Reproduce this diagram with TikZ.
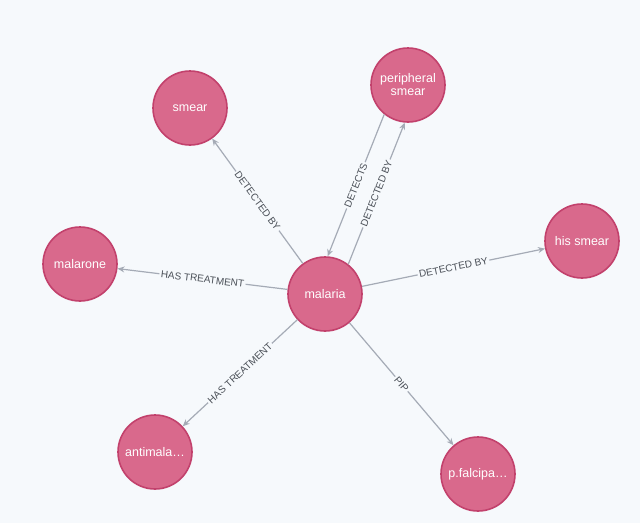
\documentclass[tikz,border=0pt]{standalone}
\usepackage{fontspec}
\setmainfont{Liberation Sans}
\usetikzlibrary{arrows.meta}
\definecolor{bg}{HTML}{F6F9FC}
\definecolor{nfill}{HTML}{D9698C}
\definecolor{nline}{HTML}{C2416C}
\definecolor{eline}{HTML}{A5ABB6}
\definecolor{etext}{HTML}{4A4F57}
\tikzset{
  ent/.style={circle,fill=nfill,draw=nline,line width=1.6pt,minimum size=74pt,inner sep=0pt,text=white,font=\fontsize{12.5}{13}\selectfont,align=center},
  rel/.style={draw=eline,line width=1.2pt,-{Stealth[length=7pt,width=6pt]}},
  lab/.style={midway,sloped,fill=bg,inner sep=1.5pt,text=etext,font=\fontsize{10}{11}\selectfont}
}
\begin{document}
\begin{tikzpicture}[x=1pt,y=-1pt]
\fill[bg] (0,0) rectangle (640,523);
\useasboundingbox (0,0) rectangle (640,523);
\node[ent] (m) at (325,294) {malaria};
\node[ent] (s) at (190,108) {smear};
\node[ent] (p) at (408,85) {peripheral\\smear};
\node[ent] (h) at (582,241) {his smear};
\node[ent] (mr) at (80,264) {malarone};
\node[ent] (a) at (155,452) {antimala\ldots};
\node[ent] (f) at (478,474) {p.falcipa\ldots};
\draw[rel] (m) -- node[lab]{DETECTED BY} (s);
\draw[rel] (p.231) -- node[lab]{DETECTS} (m.86);
\draw[rel] (m.52) -- node[lab]{DETECTED BY} (p.265);
\draw[rel] (m) -- node[lab]{DETECTED BY} (h);
\draw[rel] (m) -- node[lab]{HAS TREATMENT} (mr);
\draw[rel] (m) -- node[lab]{HAS TREATMENT} (a);
\draw[rel] (m) -- node[lab]{PIP} (f);
\end{tikzpicture}
\end{document}
